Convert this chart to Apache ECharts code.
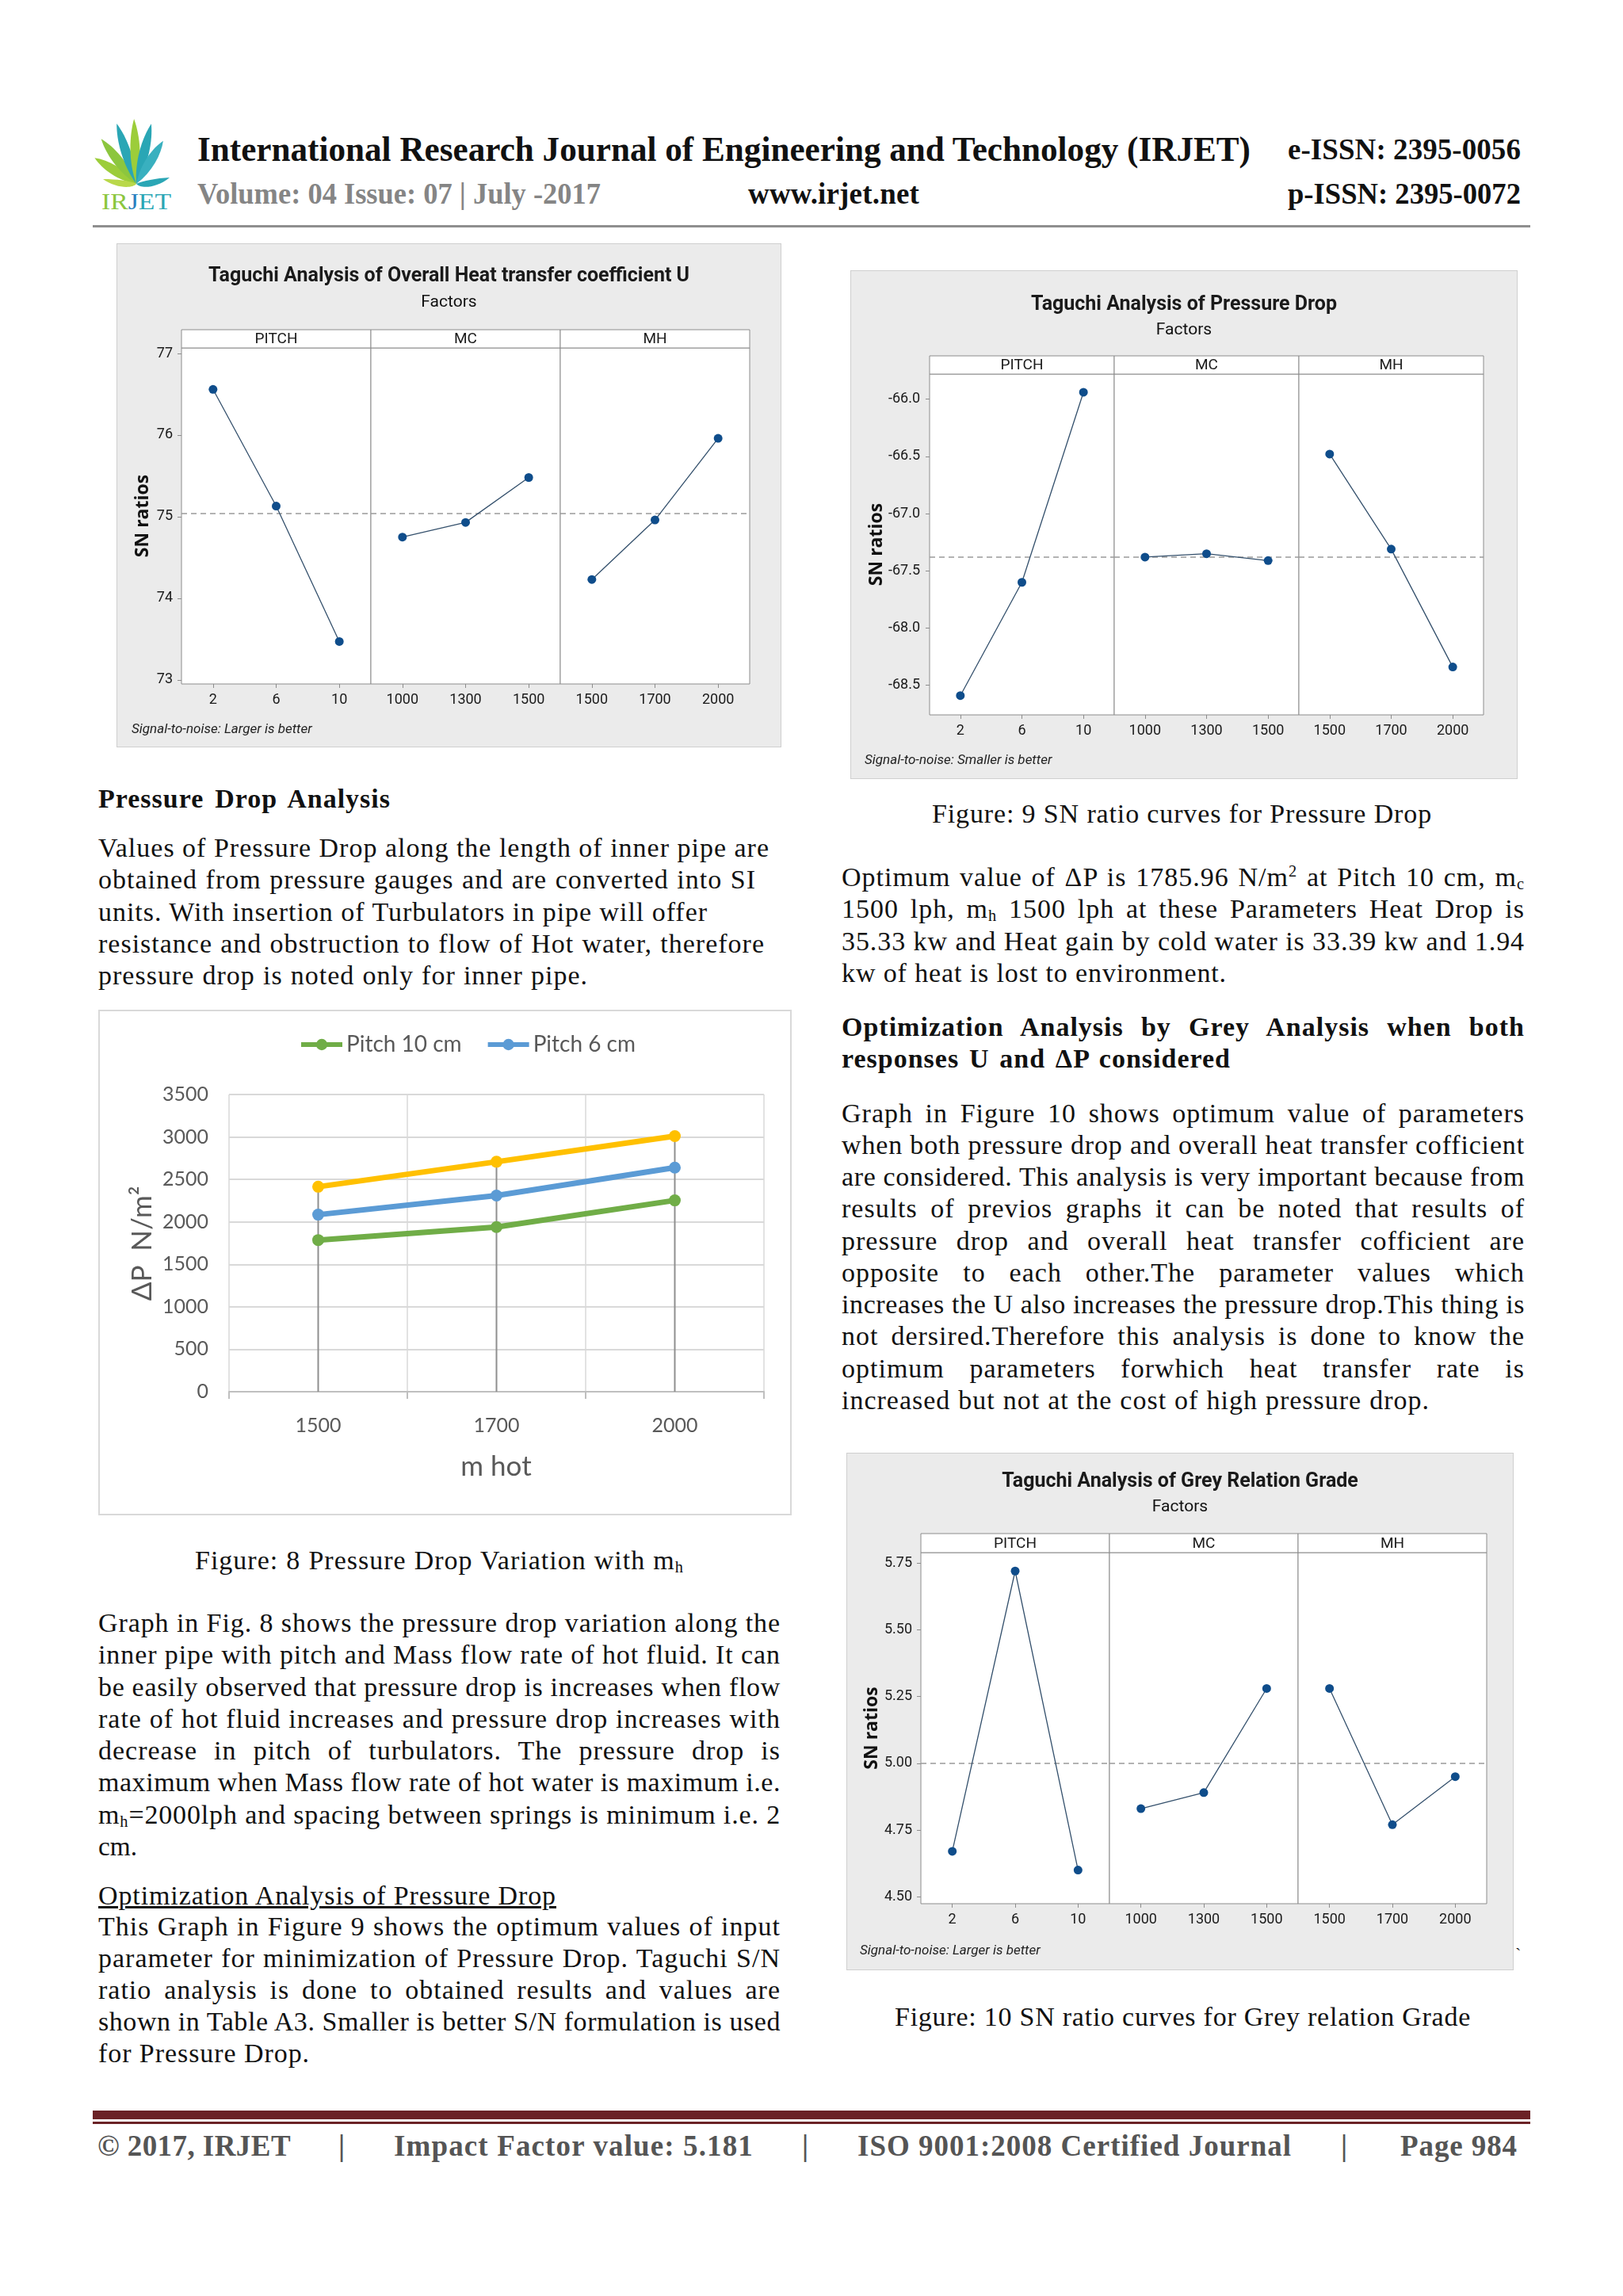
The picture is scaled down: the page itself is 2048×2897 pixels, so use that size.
<!DOCTYPE html>
<html>
<head>
<meta charset="utf-8">
<script src="https://cdn.jsdelivr.net/npm/echarts@6.0.0/dist/echarts.min.js"></script>
<style>
  html,body{margin:0;padding:0;background:#fff;}
  body{width:2048px;height:2897px;position:relative;overflow:hidden;}
  .ln{position:absolute;white-space:nowrap;font-family:'Liberation Serif',serif;font-size:34px;line-height:40px;height:40px;color:#111;}
  .ln.b{font-weight:bold;}
  .ln.u{text-decoration:underline;}
  .ln.hdr{font-size:44px;line-height:50px;height:50px;font-weight:bold;color:#111;}
  .ln.hdr2{font-size:37px;line-height:46px;height:46px;font-weight:bold;color:#111;}
  .ln.gray{color:#858585;}
  .ln.ftr{font-size:37px;line-height:44px;height:44px;font-weight:bold;color:#555;}
  sub{font-size:60%;vertical-align:-0.22em;line-height:0;}
  sup{font-size:60%;vertical-align:0.6em;line-height:0;}
  .box{position:absolute;box-sizing:border-box;}
</style>
</head>
<body>

<!-- logo -->
<svg style="position:absolute;left:116px;top:146px" width="112" height="124" viewBox="0 0 112 124">
  <g transform="translate(56,86)">
    <path d="M0,0 C-9,-22 -7,-46 0,-62 C7,-46 9,-22 0,0Z" fill="#9ccd3a" transform="rotate(-58)"/>
    <path d="M0,0 C-9,-26 -7,-54 0,-72 C7,-54 9,-26 0,0Z" fill="#8cc63e" transform="rotate(-38)"/>
    <path d="M0,0 C-9,-28 -7,-60 0,-80 C7,-60 9,-28 0,0Z" fill="#2aa6b5" transform="rotate(-18)"/>
    <path d="M0,0 C-9,-28 -7,-60 0,-82 C7,-60 9,-28 0,0Z" fill="#9ccd3a" transform="rotate(-2)"/>
    <path d="M0,0 C-9,-28 -7,-58 0,-78 C7,-58 9,-28 0,0Z" fill="#2aa6b5" transform="rotate(14)"/>
    <path d="M0,0 C-9,-24 -7,-48 0,-64 C7,-48 9,-24 0,0Z" fill="#39b0bf" transform="rotate(32)"/>
    <path d="M-42,-6 C-25,6 -5,6 0,0 C-8,-4 -25,-6 -42,-6Z" fill="#b9d84a"/>
    <path d="M42,-8 C25,6 5,6 0,0 C8,-4 25,-7 42,-8Z" fill="#2aa6b5"/>
  </g>
  <text x="12" y="118" font-family="Liberation Serif" font-size="30" textLength="88" lengthAdjust="spacingAndGlyphs"><tspan fill="#8cc63e">IR</tspan><tspan fill="#2a7fc0">J</tspan><tspan fill="#2aa6b5">ET</tspan></text>
</svg>

<!-- header rule -->
<div class="box" style="left:117px;top:284px;width:1814px;height:3px;background:#8f8f8f"></div>

<!-- chart boxes -->
<div id="cU" class="box" style="left:147px;top:307px;width:839px;height:636px;border:1px solid #cfcfcf"></div>
<div id="cDP" class="box" style="left:1073px;top:341px;width:842px;height:642px;border:1px solid #cfcfcf"></div>
<div id="cLine" class="box" style="left:124px;top:1274px;width:875px;height:638px;border:2px solid #d9d9d9"></div>
<div id="cGRG" class="box" style="left:1068px;top:1833px;width:842px;height:653px;border:1px solid #cfcfcf"></div>

<!-- footer bars -->
<div class="box" style="left:117px;top:2663px;width:1814px;height:11px;background:#6b2226"></div>
<div class="box" style="left:117px;top:2677px;width:1814px;height:3px;background:#6b2226"></div>
<div class="ln" style="left:1912px;top:2446px;font-size:22px">`</div>

<div id="txt"></div>

<script>
// ---------------- DATA ----------------
const factorNames = ['PITCH', 'MC', 'MH'];
const pitchLevels = ['2', '6', '10'];
const mcLevels = ['1000', '1300', '1500'];
const mhLevels = ['1500', '1700', '2000'];

// Overall heat transfer coefficient U : Taguchi SN ratios, larger is better
const uPitch = [76.56, 75.13, 73.47];
const uMC = [74.75, 74.93, 75.48];
const uMH = [74.23, 74.96, 75.96];
const uMean = 75.04;
const uTicks = [73, 74, 75, 76, 77];

// Fig 9 : Taguchi SN ratios of pressure drop, smaller is better
const dpPitch = [-68.59, -67.60, -65.94];
const dpMC = [-67.38, -67.35, -67.41];
const dpMH = [-66.48, -67.31, -68.34];
const dpMean = -67.38;
const dpTicks = [-68.5, -68.0, -67.5, -67.0, -66.5, -66.0];

// Fig 10 : Taguchi SN ratios of grey relation grade
const grgPitch = [4.67, 5.72, 4.60];
const grgMC = [4.83, 4.89, 5.28];
const grgMH = [5.28, 4.77, 4.95];
const grgMean = 5.00;
const grgTicks = [4.50, 4.75, 5.00, 5.25, 5.50, 5.75];

// Fig 8 : pressure drop (N/m2) vs m hot
const mHot = ['1500', '1700', '2000'];
const dpPitch10cm = [1786, 1939, 2253];
const dpPitch6cm = [2085, 2310, 2639];
const dpPitch2cm = [2414, 2708, 3010];

// ---------------- TAGUCHI CHARTS ----------------
function taguchi(id, c) {
  const ch = echarts.init(document.getElementById(id), null, {width: c.w, height: c.h});
  const grid = [], xAxis = [], yAxis = [], series = [], graphic = [];
  const cats = [pitchLevels, mcLevels, mhLevels];
  const F = 'Roboto';
  graphic.push({type: 'text', z: 100, x: c.w / 2, y: c.ty, style: {text: c.title, align: 'center', verticalAlign: 'middle', fontSize: 25, fontWeight: 'bold', fontFamily: F, fill: '#1a1a1a'}});
  graphic.push({type: 'text', z: 100, x: c.w / 2, y: c.fy, style: {text: 'Factors', align: 'center', verticalAlign: 'middle', fontSize: 21, fontFamily: F, fill: '#111'}});
  graphic.push({type: 'text', z: 100, x: c.snx, y: c.pt + c.ph / 2, rotation: Math.PI / 2, style: {text: 'SN ratios', align: 'center', verticalAlign: 'middle', fontSize: 23, fontWeight: 'bold', fontFamily: 'Open Sans', fill: '#111'}});
  graphic.push({type: 'text', z: 100, x: c.sx, y: c.sy, style: {text: c.note, align: 'left', verticalAlign: 'middle', fontSize: 17, fontStyle: 'italic', fontFamily: F, fill: '#222'}});
  for (let i = 0; i < 3; i++) {
    const left = c.pl + c.pw * i;
    grid.push({left: left, top: c.pt, width: c.pw, height: c.ph, show: true, backgroundColor: '#fff', borderColor: '#8c8c8c', borderWidth: 1});
    xAxis.push({type: 'category', gridIndex: i, data: cats[i], boundaryGap: true,
      axisLine: {show: false},
      axisTick: {show: true, alignWithLabel: true, length: 5, lineStyle: {color: '#8c8c8c'}},
      axisLabel: {fontSize: 18, color: '#1a1a1a', margin: 11, fontFamily: F},
      splitLine: {show: false}});
    yAxis.push({type: 'value', gridIndex: i, min: c.min, max: c.max, show: i === 0,
      axisLine: {show: false},
      axisTick: {show: true, length: 5, customValues: c.ticks, lineStyle: {color: '#8c8c8c'}},
      axisLabel: {customValues: c.ticks, formatter: v => v.toFixed(c.dec), fontSize: 18, color: '#1a1a1a', margin: c.lm, fontFamily: F},
      splitLine: {show: false}});
    series.push({type: 'line', xAxisIndex: i, yAxisIndex: i, data: c.vals[i], symbol: 'circle', symbolSize: 11,
      lineStyle: {width: 1.3, color: '#34506c'}, itemStyle: {color: '#0f4d8b'}, z: 5,
      markLine: {silent: true, symbol: 'none', data: [{yAxis: c.mean}], label: {show: false},
        lineStyle: {type: [7, 5], color: '#9a9a9a', width: 1.5}}});
    graphic.push({type: 'rect', z: 50, shape: {x: left, y: c.st, width: c.pw, height: c.pt - c.st}, style: {fill: '#fff', stroke: '#8c8c8c', lineWidth: 1}});
    graphic.push({type: 'text', z: 60, x: left + c.pw / 2, y: (c.st + c.pt) / 2 + 1, style: {text: factorNames[i], align: 'center', verticalAlign: 'middle', fontSize: 19, fontFamily: F, fill: '#1a1a1a'}});
  }
  ch.setOption({animation: false, backgroundColor: '#ebebeb', grid, xAxis, yAxis, series, graphic});
}

taguchi('cU', {w: 837, h: 634, title: 'Taguchi Analysis of Overall Heat transfer coefficient U', note: 'Signal-to-noise: Larger is better',
  ty: 41, fy: 74, pl: 81, pw: 239, st: 108, pt: 131, ph: 424, min: 72.95, max: 77.068, ticks: uTicks, dec: 0, lm: 11,
  vals: [uPitch, uMC, uMH], mean: uMean, snx: 32, sx: 18, sy: 613});
taguchi('cDP', {w: 840, h: 640, title: 'Taguchi Analysis of Pressure Drop', note: 'Signal-to-noise: Smaller is better',
  ty: 43, fy: 75, pl: 99, pw: 233, st: 107, pt: 130, ph: 430, min: -68.758, max: -65.781, ticks: dpTicks, dec: 1, lm: 12,
  vals: [dpPitch, dpMC, dpMH], mean: dpMean, snx: 32, sx: 17, sy: 618});
taguchi('cGRG', {w: 840, h: 651, title: 'Taguchi Analysis of Grey Relation Grade', note: 'Signal-to-noise: Larger is better',
  ty: 36, fy: 68, pl: 93, pw: 238, st: 101, pt: 125, ph: 443, min: 4.474, max: 5.789, ticks: grgTicks, dec: 2, lm: 11,
  vals: [grgPitch, grgMC, grgMH], mean: grgMean, snx: 31, sx: 16, sy: 628});

// ---------------- LINE CHART (Fig 8) ----------------
(function () {
  const ch = echarts.init(document.getElementById('cLine'), null, {width: 871, height: 634});
  const font = 'Lato';
  ch.setOption({
    animation: false, backgroundColor: '#fff',
    legend: {data: ['Pitch 10 cm', 'Pitch 6 cm'], left: 246, top: 23, itemWidth: 52, itemHeight: 18, itemGap: 30,
      lineStyle: {width: 6}, textStyle: {fontSize: 28, color: '#595959', fontFamily: font}},
    grid: {left: 163, right: 33, top: 105, height: 375},
    xAxis: {type: 'category', data: mHot, boundaryGap: true,
      axisLine: {lineStyle: {color: '#bfbfbf', width: 2}},
      axisTick: {show: true, length: 9, lineStyle: {color: '#bfbfbf', width: 2}},
      axisLabel: {fontSize: 25, color: '#595959', margin: 30, fontFamily: font},
      splitLine: {show: true, lineStyle: {color: '#d9d9d9', width: 1.5}}},
    yAxis: {type: 'value', min: 0, max: 3500, interval: 500,
      axisLine: {show: false}, axisTick: {show: false},
      axisLabel: {fontSize: 25, color: '#595959', margin: 26, fontFamily: font, formatter: v => String(v)},
      splitLine: {lineStyle: {color: '#d9d9d9', width: 2}}},
    series: [
      {name: 'drop', type: 'bar', data: dpPitch2cm, barWidth: 2, itemStyle: {color: '#8f8f8f'}, z: 1, silent: true},
      {name: 'Pitch 10 cm', type: 'line', data: dpPitch10cm, symbol: 'circle', symbolSize: 15, lineStyle: {width: 7, color: '#70ad47'}, itemStyle: {color: '#70ad47'}, z: 3},
      {name: 'Pitch 6 cm', type: 'line', data: dpPitch6cm, symbol: 'circle', symbolSize: 15, lineStyle: {width: 7, color: '#5b9bd5'}, itemStyle: {color: '#5b9bd5'}, z: 3},
      {name: 'Pitch 2 cm', type: 'line', data: dpPitch2cm, symbol: 'circle', symbolSize: 15, lineStyle: {width: 7, color: '#ffc000'}, itemStyle: {color: '#ffc000'}, z: 3}
    ],
    graphic: [
      {type: 'text', x: 500, y: 575, style: {text: 'm hot', align: 'center', verticalAlign: 'middle', fontSize: 35, fontFamily: font, fill: '#595959'}},
      {type: 'text', x: 54, y: 293, rotation: Math.PI / 2, style: {text: 'ΔP  N/m²', align: 'center', verticalAlign: 'middle', fontSize: 35, fontFamily: font, fill: '#595959'}}
    ]
  });
})();

// ---------------- PAGE TEXT ----------------
// [left, centerY, rightEdge (0 = natural), html, classes, fitMode]
const L = 124, R = 985, RL = 1062, RR = 1924;
const pageLines = [
  [249, 189, 1578, 'International Research Journal of Engineering and Technology (IRJET)', 'hdr', 'l'],
  [1625, 189, 1919, 'e-ISSN: 2395-0056', 'hdr2', 'l'],
  [249, 245, 758, 'Volume: 04 Issue: 07 | July -2017', 'hdr2 gray', 'l'],
  [944, 245, 1160, 'www.irjet.net', 'hdr2', 'l'],
  [1625, 245, 1919, 'p-ISSN: 2395-0072', 'hdr2', 'l'],

  [L, 1008, 493, 'Pressure Drop Analysis', 'b', 'w'],
  [L, 1070, 971, 'Values of Pressure Drop along the length of inner pipe are', '', 'w'],
  [L, 1110, 954, 'obtained from pressure gauges and are converted into SI', '', 'w'],
  [L, 1151, 893, 'units. With insertion of Turbulators in pipe will offer', '', 'w'],
  [L, 1191, 965, 'resistance and obstruction to flow of Hot water, therefore', '', 'w'],
  [L, 1231, 742, 'pressure drop is noted only for inner pipe.', '', 'w'],

  [246, 1969, 863, 'Figure: 8 Pressure Drop Variation with m<sub>h</sub>', '', 'w'],
  [L, 2048, R, 'Graph in Fig. 8 shows the pressure drop variation along the', '', 'w'],
  [L, 2088, R, 'inner pipe with pitch and Mass flow rate of hot fluid. It can', '', 'w'],
  [L, 2129, R, 'be easily observed that pressure drop is increases when flow', '', 'w'],
  [L, 2169, R, 'rate of hot fluid increases and pressure drop increases with', '', 'w'],
  [L, 2209, R, 'decrease in pitch of turbulators. The pressure drop is', '', 'w'],
  [L, 2249, R, 'maximum when Mass flow rate of hot water is maximum i.e.', '', 'w'],
  [L, 2290, R, 'm<sub>h</sub>=2000lph and spacing between springs is minimum i.e. 2', '', 'w'],
  [L, 2330, 173, 'cm.', '', 'w'],
  [L, 2392, 702, 'Optimization Analysis of Pressure Drop', 'u', 'w'],
  [L, 2431, R, 'This Graph in Figure 9 shows the optimum values of input', '', 'w'],
  [L, 2471, R, 'parameter for minimization of Pressure Drop. Taguchi S/N', '', 'w'],
  [L, 2511, R, 'ratio analysis is done to obtained results and values are', '', 'w'],
  [L, 2551, R, 'shown in Table A3. Smaller is better S/N formulation is used', '', 'w'],
  [L, 2591, 391, 'for Pressure Drop.', '', 'w'],

  [1176, 1027, 1807, 'Figure: 9 SN ratio curves for Pressure Drop', '', 'w'],
  [RL, 1107, RR, 'Optimum value of ΔP is 1785.96 N/m<sup>2</sup> at Pitch 10 cm, m<sub>c</sub>', '', 'w'],
  [RL, 1147, RR, '1500 lph, m<sub>h</sub> 1500 lph at these Parameters Heat Drop is', '', 'w'],
  [RL, 1188, RR, '35.33 kw and Heat gain by cold water is 33.39 kw and 1.94', '', 'w'],
  [RL, 1228, 1548, 'kw of heat is lost to environment.', '', 'w'],
  [RL, 1296, RR, 'Optimization Analysis by Grey Analysis when both', 'b', 'w'],
  [RL, 1336, 1553, 'responses U and ΔP considered', 'b', 'w'],
  [RL, 1405, RR, 'Graph in Figure 10 shows optimum value of parameters', '', 'w'],
  [RL, 1445, RR, 'when both pressure drop and overall heat transfer cofficient', '', 'w'],
  [RL, 1485, RR, 'are considered. This analysis is very important because from', '', 'w'],
  [RL, 1525, RR, 'results of previos graphs it can be noted that results of', '', 'w'],
  [RL, 1566, RR, 'pressure drop and overall heat transfer cofficient are', '', 'w'],
  [RL, 1606, RR, 'opposite to each other.The parameter values which', '', 'w'],
  [RL, 1646, RR, 'increases the U also increases the pressure drop.This thing is', '', 'w'],
  [RL, 1686, RR, 'not dersired.Therefore this analysis is done to know the', '', 'w'],
  [RL, 1727, RR, 'optimum parameters forwhich heat transfer rate is', '', 'w'],
  [RL, 1767, 1804, 'increased but not at the cost of high pressure drop.', '', 'w'],
  [1129, 2545, 1856, 'Figure: 10 SN ratio curves for Grey relation Grade', '', 'w'],

  [123, 2708, 367, '© 2017, IRJET', 'ftr', 'l'],
  [427, 2708, 0, '|', 'ftr', 'l'],
  [497, 2708, 951, 'Impact Factor value: 5.181', 'ftr', 'l'],
  [1012, 2708, 0, '|', 'ftr', 'l'],
  [1082, 2708, 1630, 'ISO 9001:2008 Certified Journal', 'ftr', 'l'],
  [1692, 2708, 0, '|', 'ftr', 'l'],
  [1767, 2708, 1915, 'Page 984', 'ftr', 'l']
];

const host = document.getElementById('txt');
pageLines.forEach(function (d) {
  const el = document.createElement('div');
  el.className = 'ln ' + d[4];
  el.innerHTML = d[3];
  host.appendChild(el);
  const h = parseFloat(getComputedStyle(el).height);
  el.style.left = d[0] + 'px';
  el.style.top = (d[1] - h / 2) + 'px';
  if (d[2] > 0) {
    const target = d[2] - d[0];
    const nw = el.getBoundingClientRect().width;
    const txt = el.textContent;
    const n = Math.max(1, txt.length);
    if (target > nw) {
      const spaces = (txt.match(/ /g) || []).length;
      let extra = target - nw;
      // part of the extra width goes to the glyphs (wider original face), rest to word gaps
      let ls = Math.min(extra / n, d[5] === 'w' && spaces > 0 ? 1.0 : 99);
      el.style.letterSpacing = ls + 'px';
      extra -= ls * n;
      if (spaces > 0 && extra > 0) el.style.wordSpacing = (extra / spaces) + 'px';
    } else if (target < nw) {
      el.style.transformOrigin = 'left center';
      el.style.transform = 'scaleX(' + (target / nw) + ')';
    }
  }
});
</script>
</body>
</html>
